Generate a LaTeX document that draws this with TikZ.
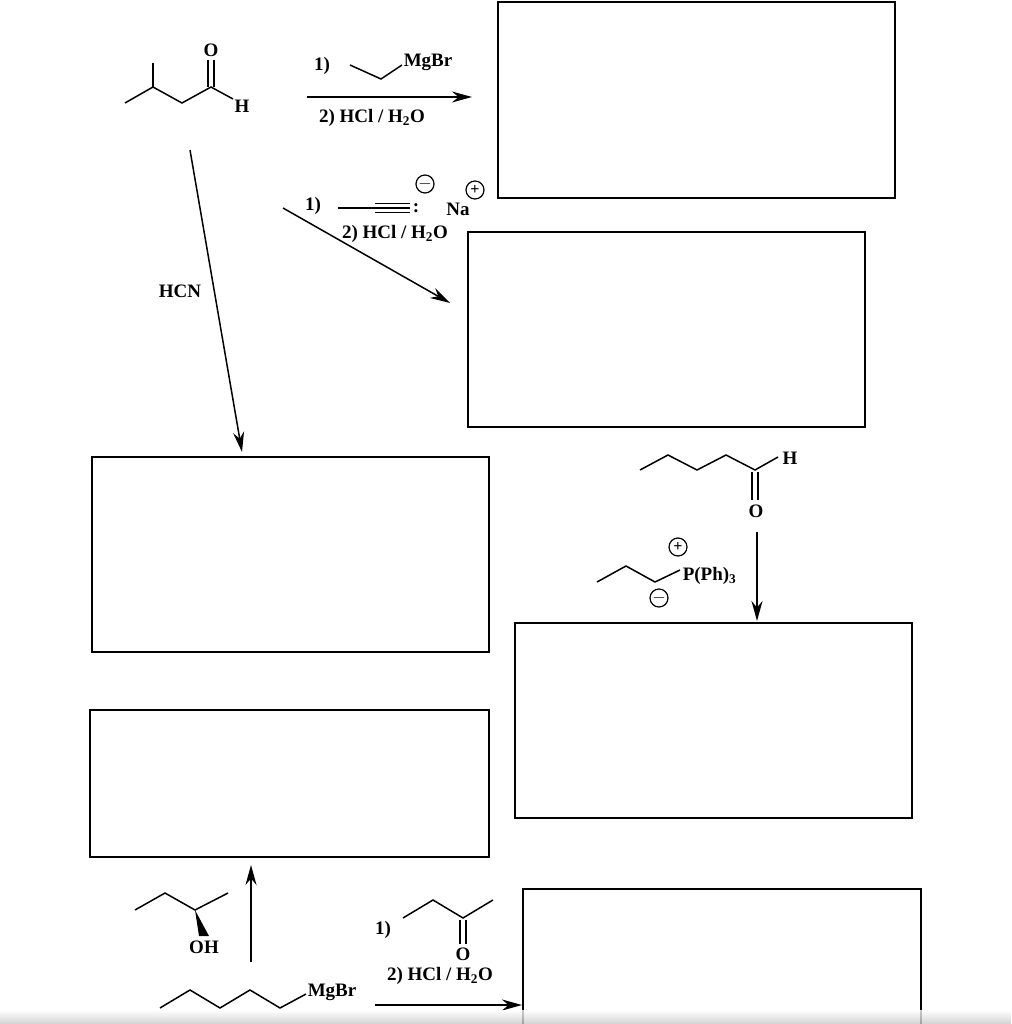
\documentclass[tikz,border=0pt]{standalone}
\usepackage{fontspec}
\usetikzlibrary{arrows.meta}
\setmainfont{Liberation Serif}
\begin{document}
\begin{tikzpicture}[x=1pt,y=-1pt,line width=1.5pt,
  lbl/.style={font=\bfseries\fontsize{19}{21}\selectfont,inner sep=0pt},
  box/.style={draw,line width=1.5pt},
  arr/.style={-{Stealth[length=20pt,width=11pt]},line width=1.5pt},
  chg/.style={circle,draw,line width=1.2pt,inner sep=0pt,minimum size=18pt,font=\bfseries\fontsize{16}{16}\selectfont}]
\useasboundingbox (0,0) rectangle (1011,1024);
% boxes
\draw[box] (498,2) rectangle (895,198);
\draw[box] (468,232) rectangle (865,427);
\draw[box] (92,457) rectangle (489,652);
\draw[box] (515,623) rectangle (912,818);
\draw[box] (90,710) rectangle (489,857);
\draw[box] (523,1024) -- (523,889) -- (921,889) -- (921,1024);
% top-left aldehyde
\draw (125,103) -- (153,87) -- (182,103) -- (211,87) -- (233,99);
\draw (153,87) -- (153,63);
\draw (208,87) -- (208,60); \draw (214,87) -- (214,60);
\node[lbl] (o1) at (211,50) {O};
\node[lbl] (h1) at (242,106) {H};
% reaction 1
\coordinate (a1s) at (307,97); \coordinate (a1e) at (472,97);
\draw[arr] (a1s) -- (a1e);
\node[lbl] (r11) at (322,66) {1)};
\draw (350,65) -- (381,79) -- (402,65);
\node[lbl,anchor=west] (mg1) at (403,62) {MgBr};
\node[lbl] (r12) at (372,118) {2) HCl / H$_\mathbf{2}$O};
% acetylide
\node[lbl] (r21) at (313,206) {1)};
\draw (338,208) -- (373,208);
\draw (373,208) -- (410,208);
\draw (375,203.5) -- (410,203.5); \draw (375,212.5) -- (410,212.5);
\node[lbl] (col) at (416,208) {:};
\node[chg] (m1) at (425,184) {$-$};
\node[lbl] (na) at (458,209) {Na};
\node[chg] (p1) at (475,190) {+};
\coordinate (a2s) at (283,208); \coordinate (a2e) at (450,303);
\draw[arr] (a2s) -- (a2e);
\node[lbl] (r22) at (395,234) {2) HCl / H$_\mathbf{2}$O};
% HCN
\coordinate (a3s) at (190,150); \coordinate (a3e) at (242,452);
\draw[arr] (a3s) -- (a3e);
\node[lbl] (hcn) at (180,291) {HCN};
% pentanal
\draw (640,470) -- (668,455) -- (697,470) -- (726,455) -- (755,470) -- (778,457);
\draw (752,472) -- (752,500); \draw (758,472) -- (758,500);
\node[lbl] (h2) at (790,458) {H};
\node[lbl] (o2) at (756,511) {O};
\coordinate (a4s) at (757,532); \coordinate (a4e) at (757,621);
\draw[arr] (a4s) -- (a4e);
% ylide
\draw (597,582) -- (626,566) -- (655,582) -- (680,570);
\node[lbl,anchor=west] (pph) at (682,576) {P(Ph)$_\mathbf{3}$};
\node[chg] (m2) at (659,598) {$-$};
\node[chg] (p2) at (678,547) {+};
% bottom-left
\draw (135,910) -- (165,893) -- (195,910) -- (228,893);
\fill (195,910) -- (199,936) -- (209,936) -- cycle;
\node[lbl] (oh) at (204,947) {OH};
\coordinate (a5s) at (251,962); \coordinate (a5e) at (251,865);
\draw[arr] (a5s) -- (a5e);
% ketone
\node[lbl] (r31) at (383,930) {1)};
\draw (403,918) -- (433,900) -- (463,918) -- (493,900);
\draw (460,920) -- (460,944); \draw (466,920) -- (466,944);
\node[lbl] (o3) at (463,954) {O};
\node[lbl] (r32) at (440,976) {2) HCl / H$_\mathbf{2}$O};
\draw (160,1008) -- (190,990) -- (220,1008) -- (250,990) -- (280,1008) -- (306,994);
\node[lbl,anchor=west] (mg2) at (307,992) {MgBr};
\coordinate (a6s) at (375,1005); \coordinate (a6e) at (522,1005);
\draw[arr] (a6s) -- (a6e);
\shade[top color=white,bottom color=black!22,opacity=0.8] (0,1010) rectangle (1011,1024);
\end{tikzpicture}
\end{document}
